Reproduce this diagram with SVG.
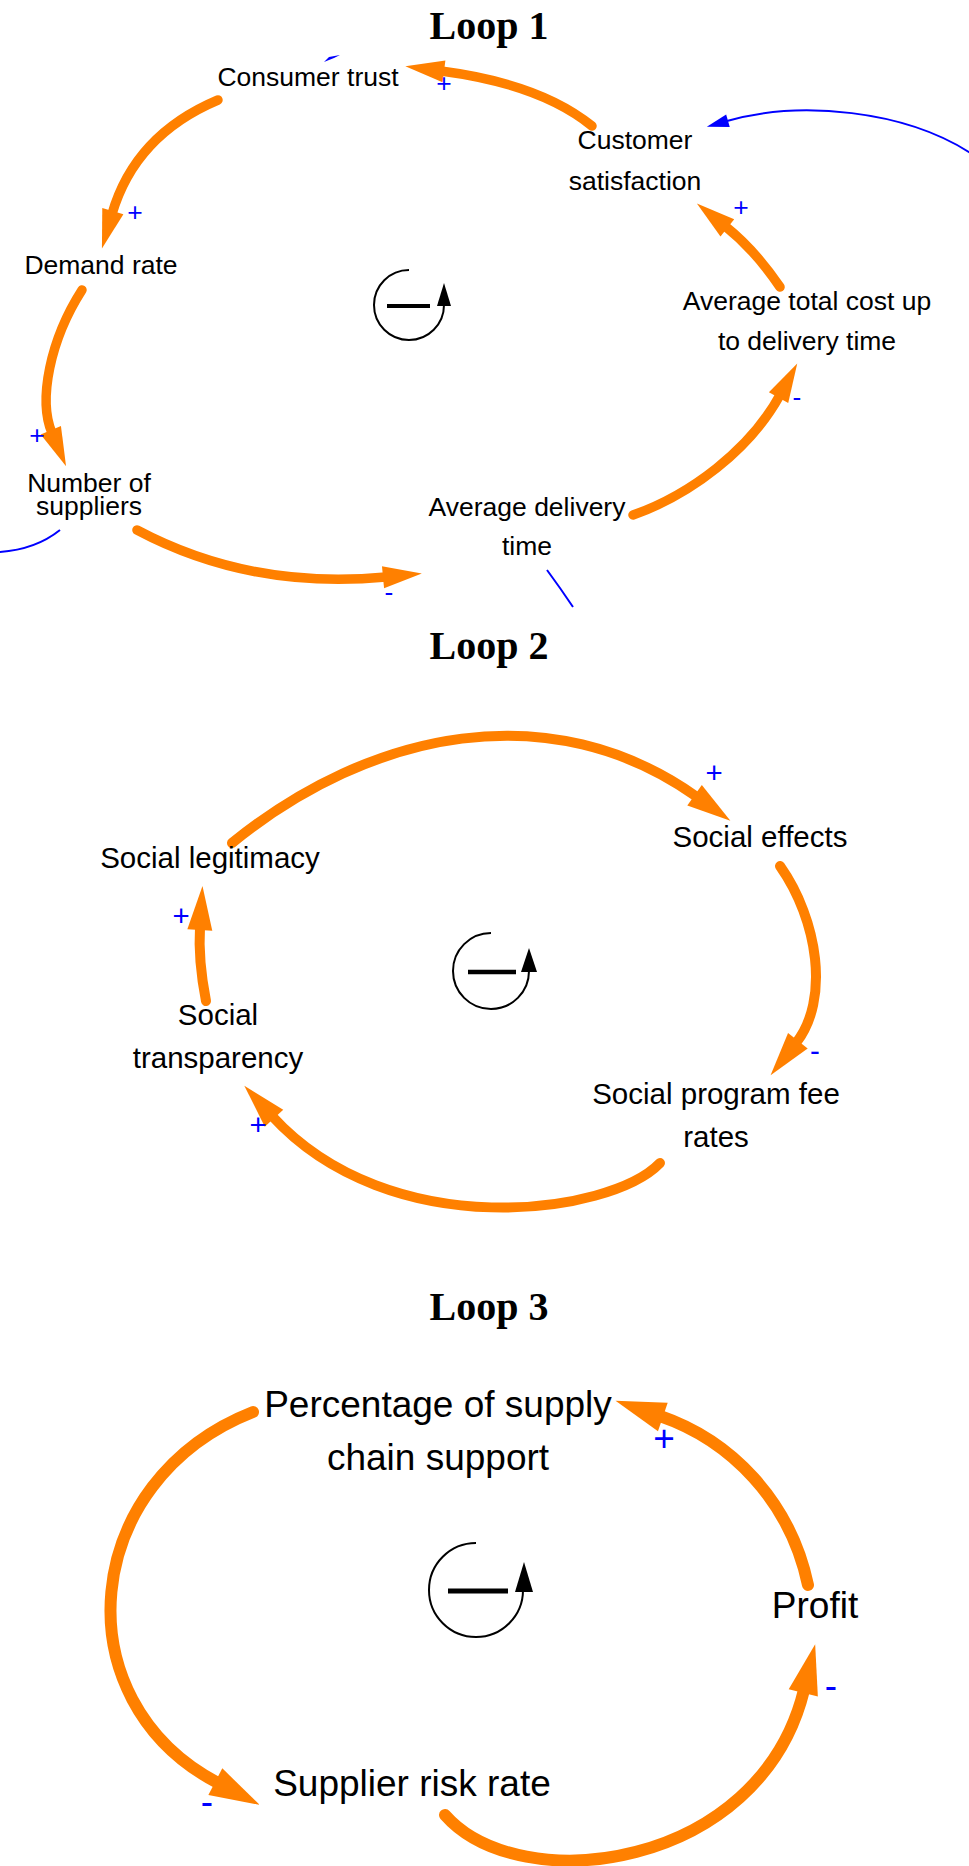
<svg xmlns="http://www.w3.org/2000/svg" width="969" height="1866" viewBox="0 0 969 1866">
<style>
.title{font-family:"Liberation Serif","Times New Roman",serif;font-weight:bold;font-size:40px;fill:#000;text-anchor:middle}
.l1{font-family:"Liberation Sans",Arial,sans-serif;font-size:26.5px;fill:#000;text-anchor:middle}
.l2{font-family:"Liberation Sans",Arial,sans-serif;font-size:29.5px;fill:#000;text-anchor:middle}
.l3{font-family:"Liberation Sans",Arial,sans-serif;font-size:37px;fill:#000;text-anchor:middle}
.s1{font-family:"Liberation Sans",Arial,sans-serif;font-size:26.5px;fill:#0000FF;text-anchor:middle}
.s2{font-family:"Liberation Sans",Arial,sans-serif;font-size:29.5px;fill:#0000FF;text-anchor:middle}
.s3{font-family:"Liberation Sans",Arial,sans-serif;font-size:37px;fill:#0000FF;text-anchor:middle}
.c1{fill:none;stroke:#FF8000;stroke-width:9.5;stroke-linecap:round}
.c2{fill:none;stroke:#FF8000;stroke-width:10;stroke-linecap:round}
.c3{fill:none;stroke:#FF8000;stroke-width:12;stroke-linecap:round}
.blue{fill:none;stroke:#0000FF;stroke-width:2}
.ring{fill:none;stroke:#000;stroke-width:2}
.bar{stroke:#000}
</style>
<defs>
<marker id="ah1" markerUnits="userSpaceOnUse" markerWidth="40" markerHeight="24" refX="0" refY="0" orient="auto" overflow="visible"><path d="M-3,-11 L36,0 L-3,11 Z" fill="#FF8000"/></marker>
<marker id="ah2" markerUnits="userSpaceOnUse" markerWidth="44" markerHeight="26" refX="0" refY="0" orient="auto" overflow="visible"><path d="M-3,-12.5 L41,0 L-3,12.5 Z" fill="#FF8000"/></marker>
<marker id="ah3" markerUnits="userSpaceOnUse" markerWidth="50" markerHeight="32" refX="0" refY="0" orient="auto" overflow="visible"><path d="M-3,-15 L47,0 L-3,15 Z" fill="#FF8000"/></marker>
<marker id="ahb" markerUnits="userSpaceOnUse" markerWidth="24" markerHeight="14" refX="0" refY="0" orient="auto" overflow="visible"><path d="M-1,-6.5 L21,0 L-1,6.5 Z" fill="#0000FF"/></marker>
</defs>
<rect width="969" height="1866" fill="#fff"/>

<g id="titles">
<text class="title" x="489" y="39">Loop 1</text>
<text class="title" x="489" y="659">Loop 2</text>
<text class="title" x="489" y="1320">Loop 3</text>
</g>

<g id="connectors">
<!-- Loop 1 -->
<path class="c1" d="M592,126 C560,100 510,80 441,71" marker-end="url(#ah1)"/>
<path class="c1" d="M218,100 Q135,135 112,214" marker-end="url(#ah1)"/>
<path class="c1" d="M82,290 C50,340 38,400 52,433" marker-end="url(#ah1)"/>
<path class="c1" d="M137,530 Q250,590 386,577" marker-end="url(#ah1)"/>
<path class="c1" d="M633,515 C690,495 750,450 780,395" marker-end="url(#ah1)"/>
<path class="c1" d="M780,287 Q755,250 725,226" marker-end="url(#ah1)"/>
<path class="blue" d="M972,154 C905,110 800,100 727,121" marker-end="url(#ahb)"/>
<path class="blue" d="M60,530 Q35,550 -2,552"/>
<path class="blue" d="M547,570 Q561,589 573,607"/>
<polygon points="324,62 329,57 340,55 334,58" fill="#0000FF"/>
<!-- Loop 2 -->
<path class="c2" d="M232,843 C371,730 551,693 697,797" marker-end="url(#ah2)"/>
<path class="c2" d="M780,866 C818,920 830,1000 796,1043" marker-end="url(#ah2)"/>
<path class="c2" d="M660,1163 C610,1215 390,1245 272,1116" marker-end="url(#ah2)"/>
<path class="c2" d="M206,1001 Q198,960 200,927" marker-end="url(#ah2)"/>
<!-- Loop 3 -->
<path class="c3" d="M253,1412 C80,1480 60,1700 218,1783" marker-end="url(#ah3)"/>
<path class="c3" d="M445,1815 C520,1900 760,1870 804,1690" marker-end="url(#ah3)"/>
<path class="c3" d="M808,1585 C790,1500 730,1440 660,1416" marker-end="url(#ah3)"/>
</g>

<g id="polarities">
<text class="s1" x="444" y="92.3">+</text>
<text class="s1" x="135" y="221.3">+</text>
<text class="s1" x="37" y="444.3">+</text>
<text class="s1" x="389" y="601.3">-</text>
<text class="s1" x="797" y="406.3">-</text>
<text class="s1" x="741" y="216.3">+</text>
<text class="s2" x="714" y="783.4">+</text>
<text class="s2" x="815" y="1061.2">-</text>
<text class="s2" x="258" y="1135.4">+</text>
<text class="s2" x="181" y="926.4">+</text>
<text class="s3" x="207" y="1814.2">-</text>
<text class="s3" x="831" y="1698.2">-</text>
<text class="s3" x="664" y="1451">+</text>
</g>

<g id="loop1-indicator">
<path class="ring" d="M409,270 A35,35 0 1 0 444,305"/>
<polygon points="444,283 437,306 451,306" fill="#000"/>
<line class="bar" x1="387" y1="306" x2="430" y2="306" stroke-width="4"/>
</g>
<g id="loop2-indicator">
<path class="ring" d="M491,933 A38,38 0 1 0 529,971"/>
<polygon points="529,948 521,972 537,972" fill="#000"/>
<line class="bar" x1="468" y1="972" x2="516" y2="972" stroke-width="4.5"/>
</g>
<g id="loop3-indicator">
<path class="ring" d="M476,1543 A47,47 0 1 0 523,1590"/>
<polygon points="524,1562 515,1592 533,1592" fill="#000"/>
<line class="bar" x1="448" y1="1591" x2="508" y2="1591" stroke-width="5"/>
</g>

<g id="consumer-trust"><text class="l1" x="308" y="86">Consumer trust</text></g>
<g id="demand-rate"><text class="l1" x="101" y="274">Demand rate</text></g>
<g id="number-of-suppliers"><text class="l1" x="89" y="492">Number of</text><text class="l1" x="89" y="515">suppliers</text></g>
<g id="average-delivery-time"><text class="l1" x="527" y="516">Average delivery</text><text class="l1" x="527" y="555">time</text></g>
<g id="average-total-cost"><text class="l1" x="807" y="310">Average total cost up</text><text class="l1" x="807" y="350">to delivery time</text></g>
<g id="customer-satisfaction"><text class="l1" x="635" y="149">Customer</text><text class="l1" x="635" y="190">satisfaction</text></g>

<g id="social-effects"><text class="l2" x="760" y="847">Social effects</text></g>
<g id="social-legitimacy"><text class="l2" x="210" y="868">Social legitimacy</text></g>
<g id="social-transparency"><text class="l2" x="218" y="1025">Social</text><text class="l2" x="218" y="1068">transparency</text></g>
<g id="social-program-fee-rates"><text class="l2" x="716" y="1104">Social program fee</text><text class="l2" x="716" y="1147">rates</text></g>

<g id="percentage-supply-chain-support"><text class="l3" x="438" y="1417">Percentage of supply</text><text class="l3" x="438" y="1470">chain support</text></g>
<g id="profit"><text class="l3" x="815" y="1618">Profit</text></g>
<g id="supplier-risk-rate"><text class="l3" x="412" y="1796">Supplier risk rate</text></g>
</svg>
